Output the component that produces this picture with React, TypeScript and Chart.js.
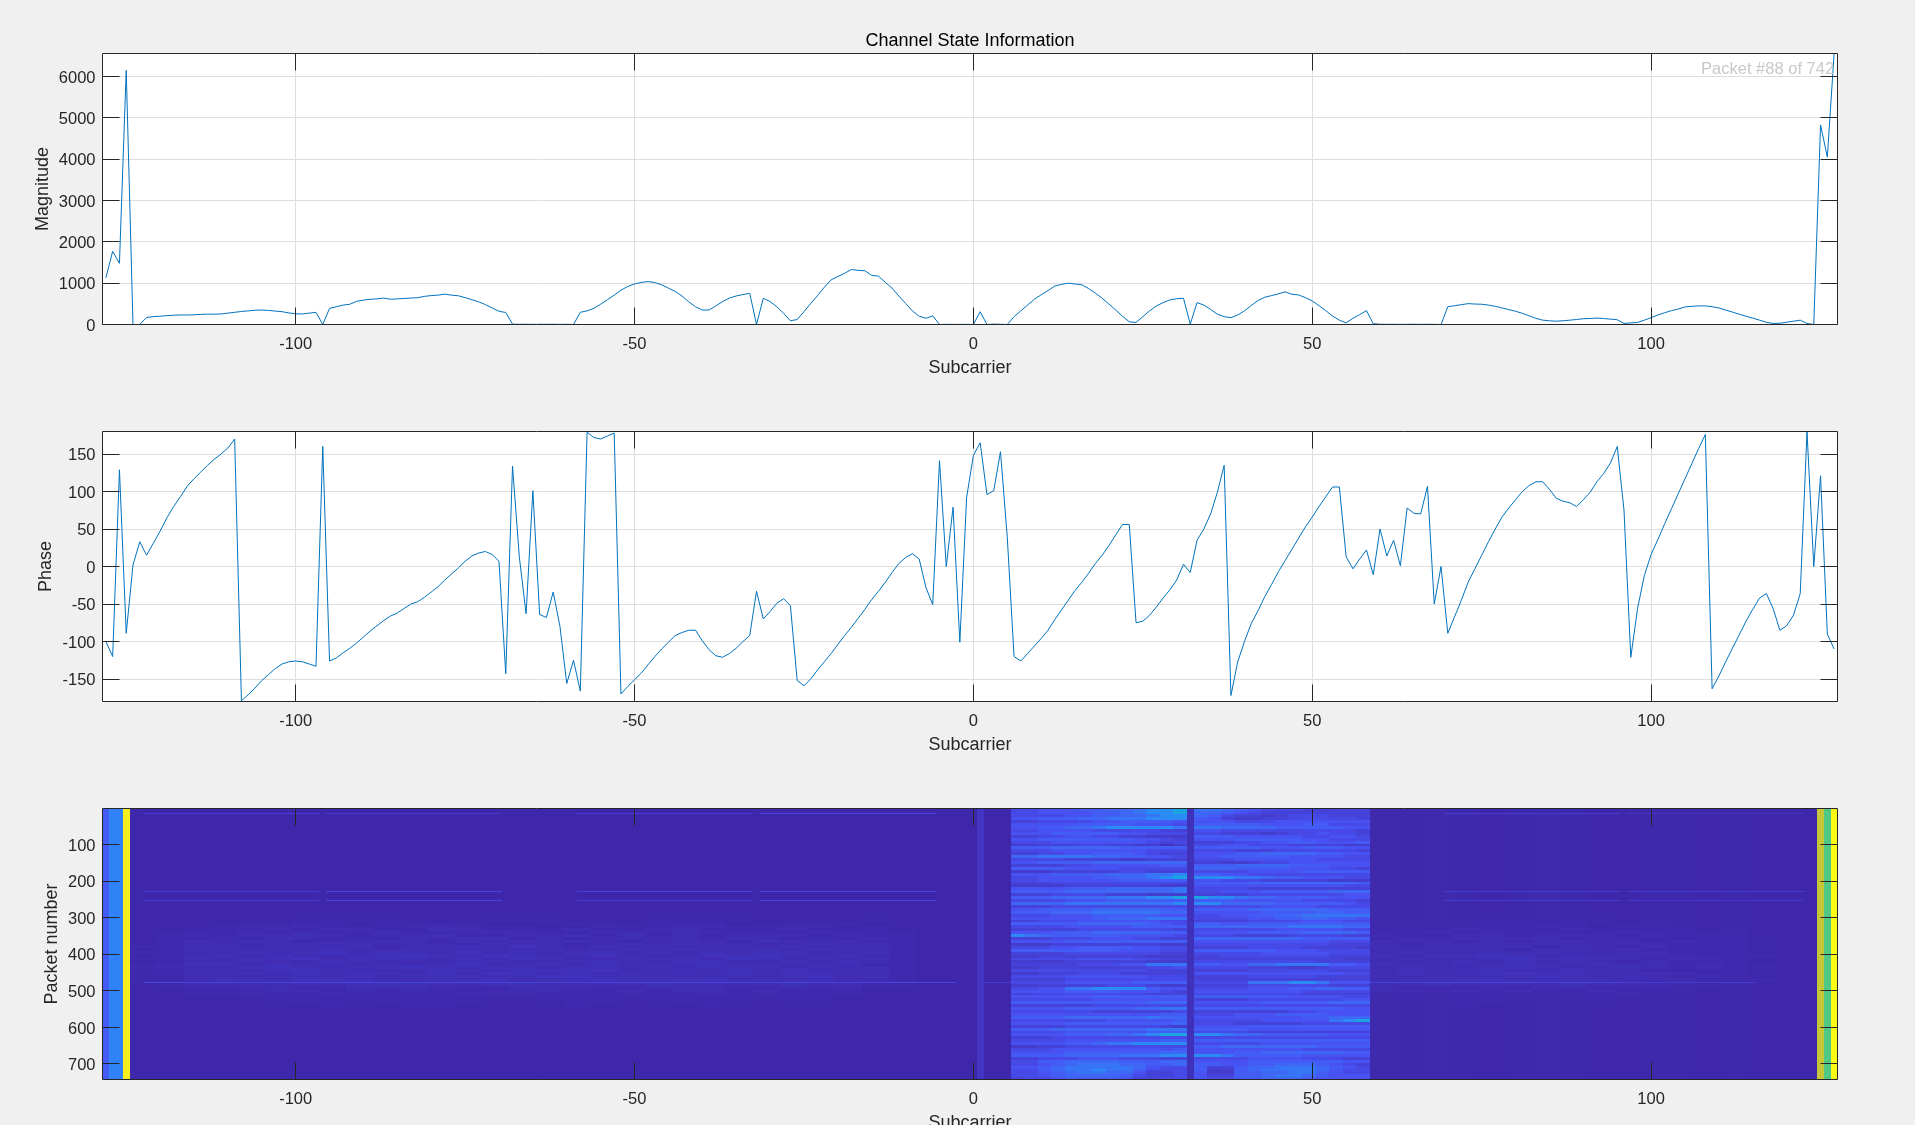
import React, { useEffect, useRef } from 'react';
import { Chart, registerables } from 'chart.js';

Chart.register(...registerables);

// 256 subcarriers, -128 .. 127, ten values per line
const magnitude = [
  1130, 1770, 1480, 6150, 0, 0, 170, 190, 200, 215,
  225, 230, 230, 235, 245, 250, 250, 255, 275, 295,
  315, 330, 345, 350, 340, 325, 310, 280, 260, 255,
  275, 295, 0, 390, 430, 470, 490, 560, 590, 610,
  620, 640, 610, 620, 630, 640, 650, 680, 700, 710,
  735, 710, 695, 650, 600, 550, 480, 400, 320, 290,
  8, 4, 6, 3, 5, 4, 6, 3, 5, 0,
  295, 330, 390, 490, 600, 710, 830, 920, 980, 1020,
  1040, 1015, 960, 880, 800, 690, 550, 430, 350, 350,
  450, 555, 640, 690, 725, 755, 0, 635, 555, 430,
  270, 90, 120, 310, 510, 700, 900, 1080, 1160, 1240,
  1330, 1310, 1300, 1190, 1170, 1020, 880, 690, 510, 330,
  200, 150, 210, 0, 4, 3, 2, 4, 0, 310,
  0, 10, 5, 0, 190, 330, 470, 610, 720, 820,
  930, 970, 1000, 980, 960, 870, 760, 635, 495, 350,
  200, 65, 50, 190, 330, 450, 530, 595, 625, 635,
  10, 530, 470, 365, 250, 190, 165, 230, 330, 460,
  580, 660, 700, 740, 790, 730, 715, 650, 570, 455,
  335, 205, 105, 40, 150, 240, 335, 20, 6, 4,
  5, 3, 4, 6, 3, 5, 4, 0, 430, 455,
  480, 505, 495, 490, 470, 440, 400, 360, 320, 270,
  210, 150, 105, 90, 80, 90, 105, 120, 140, 145,
  155, 145, 130, 115, 25, 40, 50, 105, 165, 230,
  285, 335, 375, 425, 440, 450, 450, 430, 400, 350,
  300, 250, 200, 155, 105, 55, 25, 30, 55, 80,
  105, 25, 0, 4830, 4050, 6557,
];

const phase = [
  -100, -120, 129, -89, 2, 33, 15, 31, 47, 65,
  80, 93, 107, 117, 126, 135, 143, 150, 158, 170,
  -179, -171, -162, -152, -144, -136, -130, -127, -126, -127,
  -130, -133, 160, -126, -122, -115, -109, -102, -94, -86,
  -79, -72, -66, -62, -56, -50, -47, -41, -34, -27,
  -18, -10, -2, 7, 14, 18, 20, 16, 7, -143,
  134, 13, -63, 101, -64, -68, -34, -80, -156, -125,
  -166, 179, 172, 170, 174, 178, -170, -160, -151, -142,
  -131, -120, -110, -101, -92, -88, -85, -85, -99, -111,
  -119, -121, -116, -109, -100, -92, -33, -70, -60, -49,
  -43, -52, -152, -159, -150, -138, -127, -116, -104, -92,
  -81, -69, -57, -44, -33, -21, -8, 4, 12, 17,
  10, -28, -51, 141, 0, 79, -101, 92, 148, 165,
  96, 101, 153, 39, -120, -126, -116, -106, -96, -85,
  -71, -58, -45, -32, -21, -9, 4, 15, 28, 42,
  56, 56, -75, -73, -65, -54, -42, -31, -18, 3,
  -8, 35, 50, 70, 99, 135, -172, -127, -100, -76,
  -59, -40, -24, -7, 8, 23, 38, 53, 66, 80,
  93, 106, 106, 13, -3, 10, 22, -11, 50, 14,
  35, 1, 78, 71, 70, 107, -50, 0, -89, -67,
  -45, -21, -3, 15, 33, 50, 66, 78, 89, 100,
  108, 113, 113, 103, 91, 87, 85, 80, 89, 99,
  113, 124, 138, 160, 75, -121, -56, -12, 16, 36,
  57, 77, 97, 117, 137, 157, 176, -163, -146, -127,
  -109, -91, -73, -57, -42, -36, -56, -85, -79, -65,
  -36, 180, 0, 121, -90, -110,
];

const subcarriers = magnitude.map((_, i) => i - 128);

const xTicks = [-100, -50, 0, 50, 100];
const magnitudeTicks = [0, 1000, 2000, 3000, 4000, 5000, 6000];
const phaseTicks = [-150, -100, -50, 0, 50, 100, 150];
const packetTicks = [100, 200, 300, 400, 500, 600, 700];

// heat map levels, 0..1 on the colour scale
const edgeColumns = [-128, -127, -126, -125, 125, 126, 127];
const edgeLevels = [0.17, 0.27, 0.27, 0.97, 0.76, 0.6, 1];
const faintColumns = [1, 32];
const faintLevels = [0.05, 0.035];

// digit -> level for the bright block
const brightLevels = [0.04, 0.07, 0.09, 0.115, 0.14, 0.17, 0.2, 0.24, 0.3, 0.38];

// bright block: 8 packets a line, one digit per 2 subcarriers, 6..31 then 33..58
const brightRows = [
  '3344455667889 7765433322222',
  '3344445567889 6654322222222',
  '3333445566788 6532212333222',
  '4455566777888 5421122333332',
  '2233334455554 4443334444444',
  '4444455554443 5555544455333',
  '4455667888887 7766665555544',
  '3344443333322 4433333333332',
  '4445555544333 3322212334332',
  '2233443322111 5554444433443',
  '4455555554432 4445555544333',
  '3334444444323 2223344554445',
  '1122233221101 3344333222211',
  '5556666655555 5555544455544',
  '3334444444333 3332223333332',
  '2233445554322 4445566665544',
  '6677776655443 4455555444433',
  '3333222211222 3334444443333',
  '4455556666666 2211233444444',
  '2222334444455 5556666555444',
  '5555444433333 6665555444332',
  '1112222233222 3333444455555',
  '4445555666778 5544333333333',
  '3344445566789 8887765544433',
  '3344444455555 4433322222111',
  '2223333333333 5555666666665',
  '1111222222211 4444444444433',
  '4444555666667 3333222222222',
  '5555666666667 3344455555666',
  '2223333222111 2222333333344',
  '5556666777889 9887665555444',
  '3333444555555 5554444433332',
  '6666777777778 8866665555543',
  '2223333333333 3333344443333',
  '4455556666655 5555666666555',
  '5556667777766 4444455556655',
  '3334445555544 3344556677777',
  '4444445666777 3333445566554',
  '2233344444433 2222333344433',
  '5555566666543 5544555555555',
  '3333444445555 6666666777766',
  '2222233333332 3333334444433',
  '4445556666655 4444555566665',
  '8765555544443 3332222333322',
  '2223334443322 6666666655555',
  '4444555555555 4444444444333',
  '1112222222211 3333333333222',
  '3334455554433 2222333322221',
  '5555555544433 5555554443333',
  '2222333333322 3333344444333',
  '1122222222111 2233333333222',
  '3333344443322 2222222222211',
  '1111222222111 3333333332222',
  '2222233344777 5544667777554',
  '1122222222334 3333222112333',
  '3333333333222 2222333333222',
  '1122233322222 4444444444433',
  '3333444444333 2222333332222',
  '2222333333333 2222222222222',
  '3333444445555 3333777887444',
  '1122222333211 2222333333222',
  '3344778888544 3333444556655',
  '4444555544432 4444444433333',
  '2233333333222 3333333322222',
  '4444445555555 5555555444433',
  '3333334444444 2222333333344',
  '5555555555666 4444455555666',
  '2222223333333 3333333333333',
  '4444555556677 5555555555544',
  '3333332222223 2222222334444',
  '4444444444455 3334445555444',
  '5555666666766 4444444455666',
  '3333333444445 3333344444789',
  '4444555555556 3332222233333',
  '2222333333321 4444555555555',
  '5556666666777 5555444444444',
  '3333444444555 3333222222222',
  '4444555667899 8876655555444',
  '2223333333333 3333333333333',
  '3333444444455 5555555555555',
  '4444556778888 3333344444444',
  '1122333333333 5566666665555',
  '3334444444445 4444444433333',
  '4444555555566 4445566666655',
  '5555666677788 8875555544444',
  '2233344433322 3333444433322',
  '3355666655566 4444555555544',
  '3345677766556 5544556665432',
  '4456777776433 5225667776543',
  '3356778775333 5115677776433',
  '3345677664223 4115566775433',
  '3345666653223 4225567765444',
  '2334555542233 4335566654444',
];

// quiet area noise: 8 packets a line from packet 304, one digit per 4 subcarriers,
// -124..-5 then 59..122
const quietRows = [
  '000000111100011100011110000100 0000111110000000',
  '000011110111100111011100111000 0101111100100000',
  '000111211112111001112211110100 1101112101110000',
  '001112122113211121122111211100 1112111211110100',
  '001121211311222112212211121110 1121211112111000',
  '012122321223112231312122212110 2112212221211100',
  '011213212132231212222132121210 1212222121111100',
  '012232122321322232122213222110 2221212222121100',
  '012212333222132212323221232210 2122323212211110',
  '112322223123324213222232322210 3222231221211100',
  '013223232232322322323223233210 2233212322111100',
  '112232342322423233232323322310 2322323222211100',
  '012323223343243234222434323210 3233432322221110',
  '113233423332324322333243232310 2322343332122100',
  '012232233222332233223322323210 2223232321211100',
  '113323232323423323233323223110 3223233232212100',
  '122234323343233233232333232310 2322333223212110',
  '012223432224323334223232322210 2323322322111100',
  '112332323323243232323332332210 2323343332221100',
  '112223324233323443322332342310 3232334323212100',
  '012332433223342234333423232210 2333433332221110',
  '112323234322322323223232322210 2223232222111100',
  '012222223332233222232222322110 2232222322211100',
  '001122112222112221122211212100 2111212211110000',
  '001112212121112211212212111000 2212121121100000',
  '001111121111211111111211111000 1111111111000000',
  '000011111111111111111111110000 1101111011000000',
  '000001111111100111011110110000 0111100110000000',
  '000000110111100011001100000000 0011100000000000',
  '000000010011000010000100000000 0001000000000000',
];
const quietColumnLevels = '2121012100110100';

// thin full-width lines in the quiet area: packet, first and last subcarrier, level
const thinPackets = [14, 14, 14, 14, 14, 14, 227, 227, 227, 227, 227, 227, 252, 252, 252, 252, 252, 252, 476, 476, 476, 476];
const thinFrom = [-122, -95, -58, -31, 70, 97, -122, -95, -58, -31, 70, 97, -122, -95, -58, -31, 70, 97, -122, 1, 59, 96];
const thinTo = [-97, -70, -33, -6, 95, 122, -97, -70, -33, -6, 95, 122, -97, -70, -33, -6, 95, 122, -3, 5, 95, 115];
const thinLevels = [0.08, 0.07, 0.08, 0.1, 0.07, 0.05, 0.08, 0.1, 0.09, 0.09, 0.07, 0.07, 0.07, 0.1, 0.07, 0.1, 0.07, 0.06, 0.1, 0.08, 0.1, 0.07];

const parula = [
  [62, 38, 168], [72, 82, 244], [46, 135, 247], [18, 177, 214],
  [55, 200, 151], [171, 199, 57], [254, 195, 56], [249, 251, 21],
];

const heatColor = (t: number) => {
  const p = Math.min(Math.max(t, 0), 1) * (parula.length - 1);
  const i = Math.min(Math.floor(p), parula.length - 2);
  const f = p - i;
  const c = parula[i].map((v, k) => Math.round(v + (parula[i + 1][k] - v) * f));
  return `rgb(${c[0]},${c[1]},${c[2]})`;
};

const FONT = '"Liberation Sans", Arial, sans-serif';
const AXIS_COLOR = '#262626';
const GRID_COLOR = '#dedede';
const TICK_LEN = 17;

const framePlugin = {
  id: 'frame',
  beforeDraw(chart: any) {
    const { ctx, chartArea: a } = chart;
    ctx.fillStyle = '#ffffff';
    ctx.fillRect(a.left, a.top, a.right - a.left, a.bottom - a.top);
  },
  afterDatasetsDraw(chart: any) {
    const { ctx, chartArea: a, scales } = chart;
    ctx.save();
    ctx.strokeStyle = AXIS_COLOR;
    ctx.lineWidth = 1;
    ctx.beginPath();
    scales.x.ticks.forEach((t: any) => {
      const x = Math.floor(scales.x.getPixelForValue(t.value)) + 0.5;
      ctx.moveTo(x, a.top);
      ctx.lineTo(x, a.top + TICK_LEN);
      ctx.moveTo(x, a.bottom);
      ctx.lineTo(x, a.bottom - TICK_LEN);
    });
    scales.y.ticks.forEach((t: any) => {
      const y = Math.floor(scales.y.getPixelForValue(t.value)) + 0.5;
      ctx.moveTo(a.left, y);
      ctx.lineTo(a.left + TICK_LEN, y);
      ctx.moveTo(a.right, y);
      ctx.lineTo(a.right - TICK_LEN, y);
    });
    ctx.rect(a.left, a.top, a.right - a.left, a.bottom - a.top);
    ctx.stroke();
    ctx.restore();
  },
};

const packetNotePlugin = {
  id: 'packetNote',
  afterDatasetsDraw(chart: any) {
    const { ctx, scales } = chart;
    ctx.save();
    ctx.font = `16.5px ${FONT}`;
    ctx.fillStyle = '#c8c8c8';
    ctx.textAlign = 'right';
    ctx.textBaseline = 'middle';
    ctx.fillText('Packet #88 of 742', scales.x.getPixelForValue(127), scales.y.getPixelForValue(6170));
    ctx.restore();
  },
};

const heatPlugin = {
  id: 'heat',
  beforeDatasetsDraw(chart: any) {
    const { ctx, scales } = chart;
    const cell = (c0: number, c1: number, p0: number, p1: number, t: number) => {
      const l = Math.round(scales.x.getPixelForValue(c0 - 0.5));
      const r = Math.round(scales.x.getPixelForValue(c1 + 0.5));
      const u = Math.round(scales.y.getPixelForValue(p0 - 0.5));
      const d = Math.round(scales.y.getPixelForValue(p1 + 0.5));
      ctx.fillStyle = heatColor(t);
      ctx.fillRect(l, u, r - l, Math.max(d - u, 1));
    };
    ctx.save();
    cell(-128, 127, 1, 742, 0.004);
    for (let i = 0; i < quietColumnLevels.length; i++) {
      cell(59 + i * 4, 62 + i * 4, 1, 742, 0.004 + Number(quietColumnLevels[i]) * 0.003);
    }
    quietRows.forEach((row, r) => {
      const [neg, pos] = row.split(' ');
      const p0 = 304 + r * 8;
      neg.split('').forEach((d, i) => {
        if (d !== '0') cell(-124 + i * 4, -121 + i * 4, p0, p0 + 7, 0.004 + Number(d) * 0.009);
      });
      pos.split('').forEach((d, i) => {
        if (d !== '0') cell(59 + i * 4, 62 + i * 4, p0, p0 + 7, 0.004 + Number(d) * 0.009);
      });
    });
    brightRows.forEach((row, r) => {
      const [left, right] = row.split(' ');
      const p0 = 1 + r * 8;
      const p1 = Math.min(p0 + 7, 742);
      left.split('').forEach((d, i) => {
        cell(6 + i * 2, 7 + i * 2, p0, p1, brightLevels[Number(d)]);
      });
      right.split('').forEach((d, i) => {
        cell(33 + i * 2, 34 + i * 2, p0, p1, brightLevels[Number(d)]);
      });
    });
    thinPackets.forEach((p, i) => cell(thinFrom[i], thinTo[i], p, p, thinLevels[i]));
    faintColumns.forEach((c, i) => cell(c, c, 1, 742, faintLevels[i]));
    edgeColumns.forEach((c, i) => cell(c, c, 1, 742, edgeLevels[i]));
    ctx.restore();
  },
};

const xAxis = (showGrid: boolean) => ({
  type: 'linear',
  min: -128.5,
  max: 127.5,
  afterBuildTicks: (s: any) => {
    s.ticks = xTicks.map((value) => ({ value }));
  },
  afterFit: (s: any) => {
    s.height = 60;
  },
  border: { display: false },
  grid: { display: showGrid, color: GRID_COLOR, lineWidth: 1, drawTicks: false },
  ticks: {
    autoSkip: false,
    maxRotation: 0,
    padding: 10,
    color: AXIS_COLOR,
    font: { family: FONT, size: 16.5 },
    callback: (v: any) => String(v),
  },
  title: {
    display: true,
    text: 'Subcarrier',
    color: AXIS_COLOR,
    font: { family: FONT, size: 18 },
    padding: { top: 0, bottom: 5.5 },
  },
});

const yAxis = (label: string, titlePad: number, tickValues: number[], min: number, max: number, reverse: boolean, showGrid: boolean) => ({
  type: 'linear',
  min,
  max,
  reverse,
  afterBuildTicks: (s: any) => {
    s.ticks = tickValues.map((value) => ({ value }));
  },
  afterFit: (s: any) => {
    s.width = 102.5;
  },
  border: { display: false },
  grid: { display: showGrid, color: GRID_COLOR, lineWidth: 1, drawTicks: false },
  ticks: {
    autoSkip: false,
    padding: 7,
    labelOffset: 1.5,
    color: AXIS_COLOR,
    font: { family: FONT, size: 16.5 },
    callback: (v: any) => String(v),
  },
  title: {
    display: true,
    text: label,
    color: AXIS_COLOR,
    font: { family: FONT, size: 18 },
    padding: { top: titlePad, bottom: 0 },
  },
});

const lineData = (values: number[]) => ({
  datasets: [
    {
      data: values.map((y, i) => ({ x: subcarriers[i], y })),
      borderColor: '#0072bd',
      borderWidth: 1,
      pointRadius: 0,
      tension: 0,
      fill: false,
    },
  ],
});

const CANVAS_H = 378;

const Panel: React.FC<{ top: number; bottom: number; build: () => any }> = ({ top, bottom, build }) => {
  const ref = useRef<HTMLCanvasElement>(null);

  useEffect(() => {
    if (!ref.current) return;
    const cfg = build();
    const paddingTop = cfg.hasTitle ? 30.4 : 53.5;
    const chart = new Chart(ref.current, {
      type: 'line',
      data: cfg.data,
      plugins: cfg.plugins,
      options: {
        animation: false,
        responsive: false,
        devicePixelRatio: 1,
        layout: {
          autoPadding: false,
          padding: { left: 0, right: 77.5, top: paddingTop, bottom: CANVAS_H - 60 - bottom },
        },
        plugins: {
          legend: { display: false },
          tooltip: { enabled: false },
          title: {
            display: !!cfg.hasTitle,
            fullSize: false,
            text: 'Channel State Information',
            color: '#000000',
            font: { family: FONT, size: 18, weight: 'normal' },
            padding: { top: 0, bottom: 1.5 },
          },
        },
        scales: cfg.scales,
      },
    } as any);
    return () => chart.destroy();
  }, []);

  return <canvas ref={ref} width={1915} height={CANVAS_H} style={{ position: 'absolute', left: 0, top }} />;
};

const App: React.FC = () => (
  <div style={{ position: 'fixed', left: 0, top: 0, width: 1915, height: 1125, overflow: 'hidden', background: '#f0f0f0' }}>
    <Panel
      top={0}
      bottom={324.5}
      build={() => ({
        hasTitle: true,
        data: lineData(magnitude),
        plugins: [framePlugin, packetNotePlugin],
        scales: { x: xAxis(true), y: yAxis('Magnitude', 32, magnitudeTicks, 0, 6557, false, true) },
      })}
    />
    <Panel
      top={378}
      bottom={323.5}
      build={() => ({
        data: lineData(phase),
        plugins: [framePlugin],
        scales: { x: xAxis(true), y: yAxis('Phase', 35, phaseTicks, -180, 180, false, true) },
      })}
    />
    <Panel
      top={755}
      bottom={324.5}
      build={() => ({
        data: { datasets: [{ data: [] }] },
        plugins: [framePlugin, heatPlugin],
        scales: { x: xAxis(false), y: yAxis('Packet number', 41, packetTicks, 0.5, 742.5, true, false) },
      })}
    />
  </div>
);

export default App;
